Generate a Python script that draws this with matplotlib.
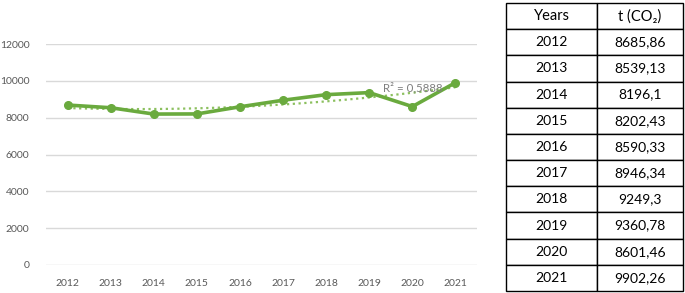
import numpy as np
import matplotlib
matplotlib.use("Agg")
import matplotlib.pyplot as plt

years = ["2012", "2013", "2014", "2015", "2016", "2017", "2018", "2019", "2020", "2021"]
values = [8685.86, 8539.13, 8196.1, 8202.43, 8590.33, 8946.34, 9249.3, 9360.78, 8601.46, 9902.26]
value_labels = ["8685,86", "8539,13", "8196,1", "8202,43", "8590,33", "8946,34", "9249,3", "9360,78", "8601,46", "9902,26"]
yticks = [0, 2000, 4000, 6000, 8000, 10000, 12000]
r2_label = "R² = 0,5888"
header = ["Years", "t (CO₂)"]

plt.rcParams['font.family'] = ['Lato', 'DejaVu Sans']

W, H = 685, 293
fig = plt.figure(figsize=(W / 100, H / 100), dpi=100)

ax = fig.add_axes([46 / W, (H - 265) / H, (477 - 46) / W, (265 - 44) / H])
x = np.arange(len(years))
green = "#6aaa3e"

# polynomial (2nd order) trendline
coef = np.polyfit(x, values, 2)
xt = np.linspace(0, len(years) - 1, 100)
ax.plot(xt, np.polyval(coef, xt), linestyle=(0, (1, 1.6)), color="#8cc05f", lw=1.6, zorder=2)

ax.plot(x, values, color=green, lw=2.6, marker="o", ms=5.5, zorder=3)

ax.set_xlim(-0.5, len(years) - 0.5)
ax.set_ylim(0, 12000)
ax.set_yticks(yticks)
ax.set_yticklabels([str(v) for v in yticks])
ax.set_xticks(x)
ax.set_xticklabels(years)
ax.grid(axis="y", color="#d9d9d9", lw=1)
ax.set_axisbelow(True)
for s in ax.spines.values():
    s.set_visible(False)
ax.tick_params(length=0, labelsize=7.5, labelcolor="#595959")
ax.tick_params(axis="y", pad=12)
ax.tick_params(axis="x", pad=10)

ax.text(7.32, 9620, r2_label, fontsize=8.3, color="#7f7f7f", ha="left", va="center", zorder=4)

# table
tax = fig.add_axes([506 / W, 2 / H, (683 - 506) / W, (290 - 2) / H])
tax.axis("off")
cells = [[y, v] for y, v in zip(years, value_labels)]
tbl = tax.table(cellText=cells, colLabels=header, bbox=[0, 0, 1, 1], cellLoc="center",
                colWidths=[(597 - 506), (683 - 597)])
tbl.auto_set_font_size(False)
for (r, c), cell in tbl.get_celld().items():
    cell.set_edgecolor("black")
    cell.set_linewidth(1.0)
    cell.set_text_props(fontsize=10 if r > 0 else 10.5, color="black")

fig.savefig("out.png", dpi=100)
